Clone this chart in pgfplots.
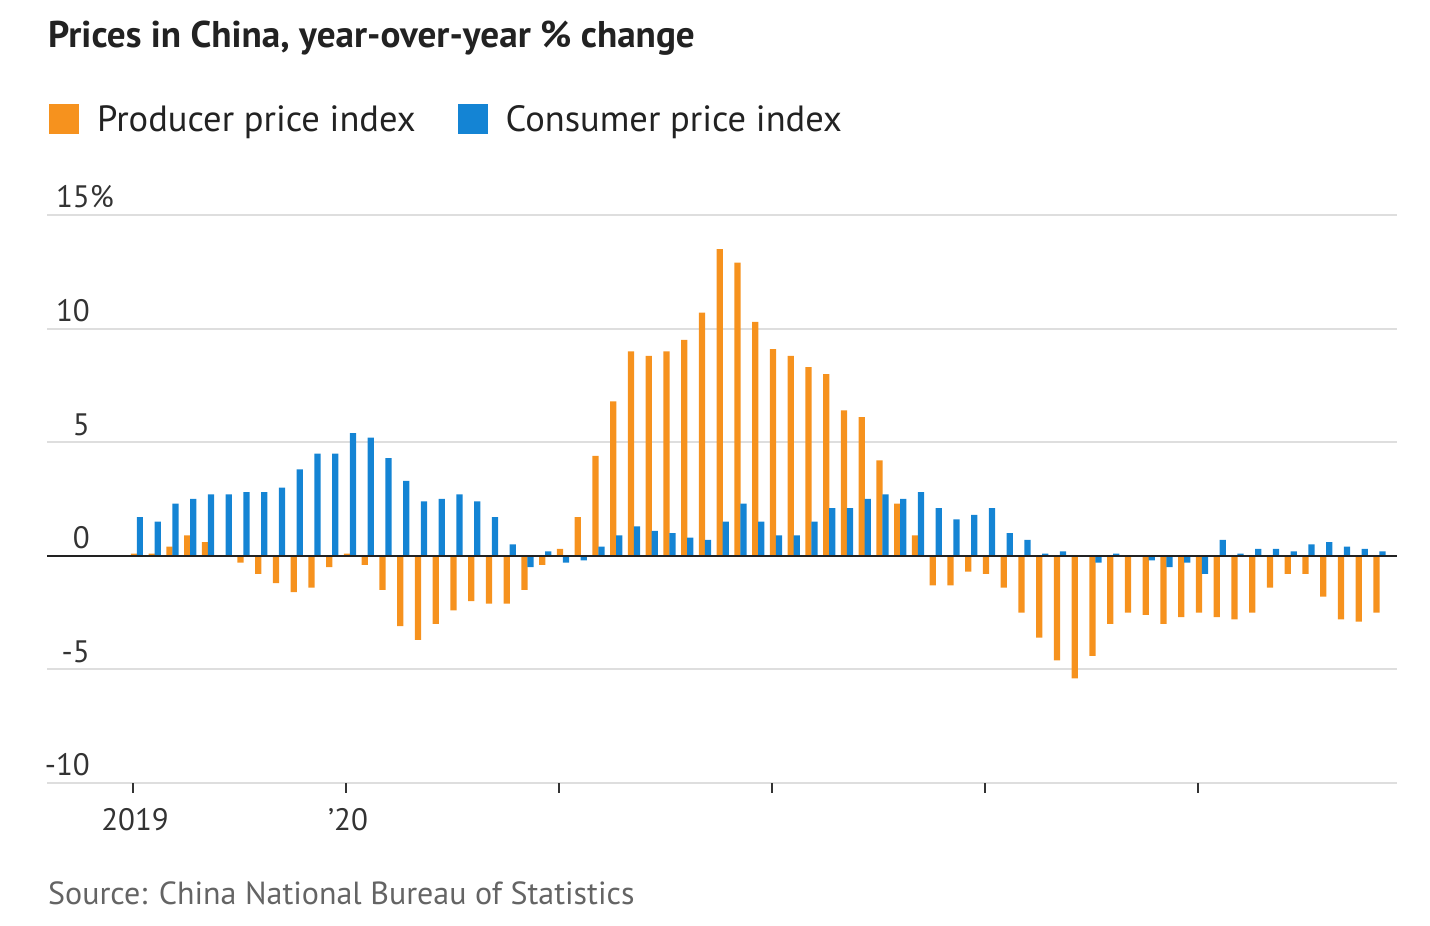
\documentclass[border=0pt]{standalone}
\usepackage{pgfplots}
\usepackage{pgfplotstable}
\pgfplotsset{compat=1.18}
\usepackage{fontspec}
\setmainfont{PT Sans}

\definecolor{ppi}{RGB}{246,146,30}
\definecolor{cpi}{RGB}{20,132,212}
\definecolor{gridgray}{RGB}{222,222,222}
\definecolor{ink}{RGB}{34,34,34}
\definecolor{tickink}{RGB}{51,51,51}
\definecolor{srcgray}{RGB}{100,100,100}

% Monthly year-over-year changes, month 0 = January 2019
\pgfplotstableread{
m ppi cpi
0 0.1 1.7
1 0.1 1.5
2 0.4 2.3
3 0.9 2.5
4 0.6 2.7
5 0.0 2.7
6 -0.3 2.8
7 -0.8 2.8
8 -1.2 3.0
9 -1.6 3.8
10 -1.4 4.5
11 -0.5 4.5
12 0.1 5.4
13 -0.4 5.2
14 -1.5 4.3
15 -3.1 3.3
16 -3.7 2.4
17 -3.0 2.5
18 -2.4 2.7
19 -2.0 2.4
20 -2.1 1.7
21 -2.1 0.5
22 -1.5 -0.5
23 -0.4 0.2
24 0.3 -0.3
25 1.7 -0.2
26 4.4 0.4
27 6.8 0.9
28 9.0 1.3
29 8.8 1.1
30 9.0 1.0
31 9.5 0.8
32 10.7 0.7
33 13.5 1.5
34 12.9 2.3
35 10.3 1.5
36 9.1 0.9
37 8.8 0.9
38 8.3 1.5
39 8.0 2.1
40 6.4 2.1
41 6.1 2.5
42 4.2 2.7
43 2.3 2.5
44 0.9 2.8
45 -1.3 2.1
46 -1.3 1.6
47 -0.7 1.8
48 -0.8 2.1
49 -1.4 1.0
50 -2.5 0.7
51 -3.6 0.1
52 -4.6 0.2
53 -5.4 0.0
54 -4.4 -0.3
55 -3.0 0.1
56 -2.5 0.0
57 -2.6 -0.2
58 -3.0 -0.5
59 -2.7 -0.3
60 -2.5 -0.8
61 -2.7 0.7
62 -2.8 0.1
63 -2.5 0.3
64 -1.4 0.3
65 -0.8 0.2
66 -0.8 0.5
67 -1.8 0.6
68 -2.8 0.4
69 -2.9 0.3
70 -2.5 0.2
}\prices

\begin{document}
\begin{tikzpicture}[x=1pt,y=1pt]
\useasboundingbox (0,0) rectangle (1430,926);

\node[anchor=base west, inner sep=0pt, text=ink,
      font=\fontsize{37.2}{41}\selectfont\bfseries]
  at (48,878) {Prices in China, year-over-year \% change};

\node[anchor=base west, inner sep=0pt, text=srcgray,
      font=\fontsize{32}{36}\selectfont]
  at (48,21) {Source: China National Bureau of Statistics};

\begin{axis}[
  at={(47pt,143pt)}, anchor=south west,
  scale only axis, width=1350pt, height=568pt,
  xmin=-4.85, xmax=71.2, ymin=-10, ymax=15,
  axis line style={draw=none},
  ybar, bar width=6.2pt,
  ytick={-10,-5,0,5,10,15},
  yticklabels={-10,-5,0,5,10,15\rlap{\%}},
  ymajorgrids, grid style={gridgray, line width=2pt},
  xtick={0,12,24,36,48,60},
  xticklabels={2019,’20,,,,},
  tick pos=left, tick align=outside, major tick length=10pt,
  xtick style={draw=tickink, line width=2pt},
  ytick style={draw=none},
  yticklabel style={anchor=base east, inner sep=0pt, xshift=53pt, yshift=7pt,
                    font=\fontsize{31}{34}\selectfont, text=tickink},
  xticklabel style={anchor=base, inner sep=0pt, xshift=2pt, yshift=-38pt,
                    font=\fontsize{31}{34}\selectfont, text=tickink},
  legend columns=2,
  legend style={at={(0,1)}, anchor=north west, xshift=2pt, yshift=112pt,
                draw=none, fill=none, inner sep=0pt,
                font=\fontsize{36.5}{40}\selectfont, text=ink,
                cells={anchor=west},
                /tikz/every odd column/.style={column sep=16pt},
                /tikz/every even column/.style={column sep=40pt}},
]
\addplot[fill=ppi, draw=none, bar shift=0.8pt,
  legend image code/.code={\fill[ppi] (0pt,-15pt) rectangle (30pt,15pt);}]
  table[x=m, y=ppi] {\prices};
\addlegendentry{Producer price index}
\addplot[fill=cpi, draw=none, bar shift=6.8pt,
  legend image code/.code={\fill[cpi] (0pt,-15pt) rectangle (30pt,15pt);}]
  table[x=m, y=cpi] {\prices};
\addlegendentry{Consumer price index}
\draw[ink, line width=2pt] (axis cs:-4.85,0) -- (axis cs:71.2,0);
\end{axis}
\end{tikzpicture}
\end{document}
